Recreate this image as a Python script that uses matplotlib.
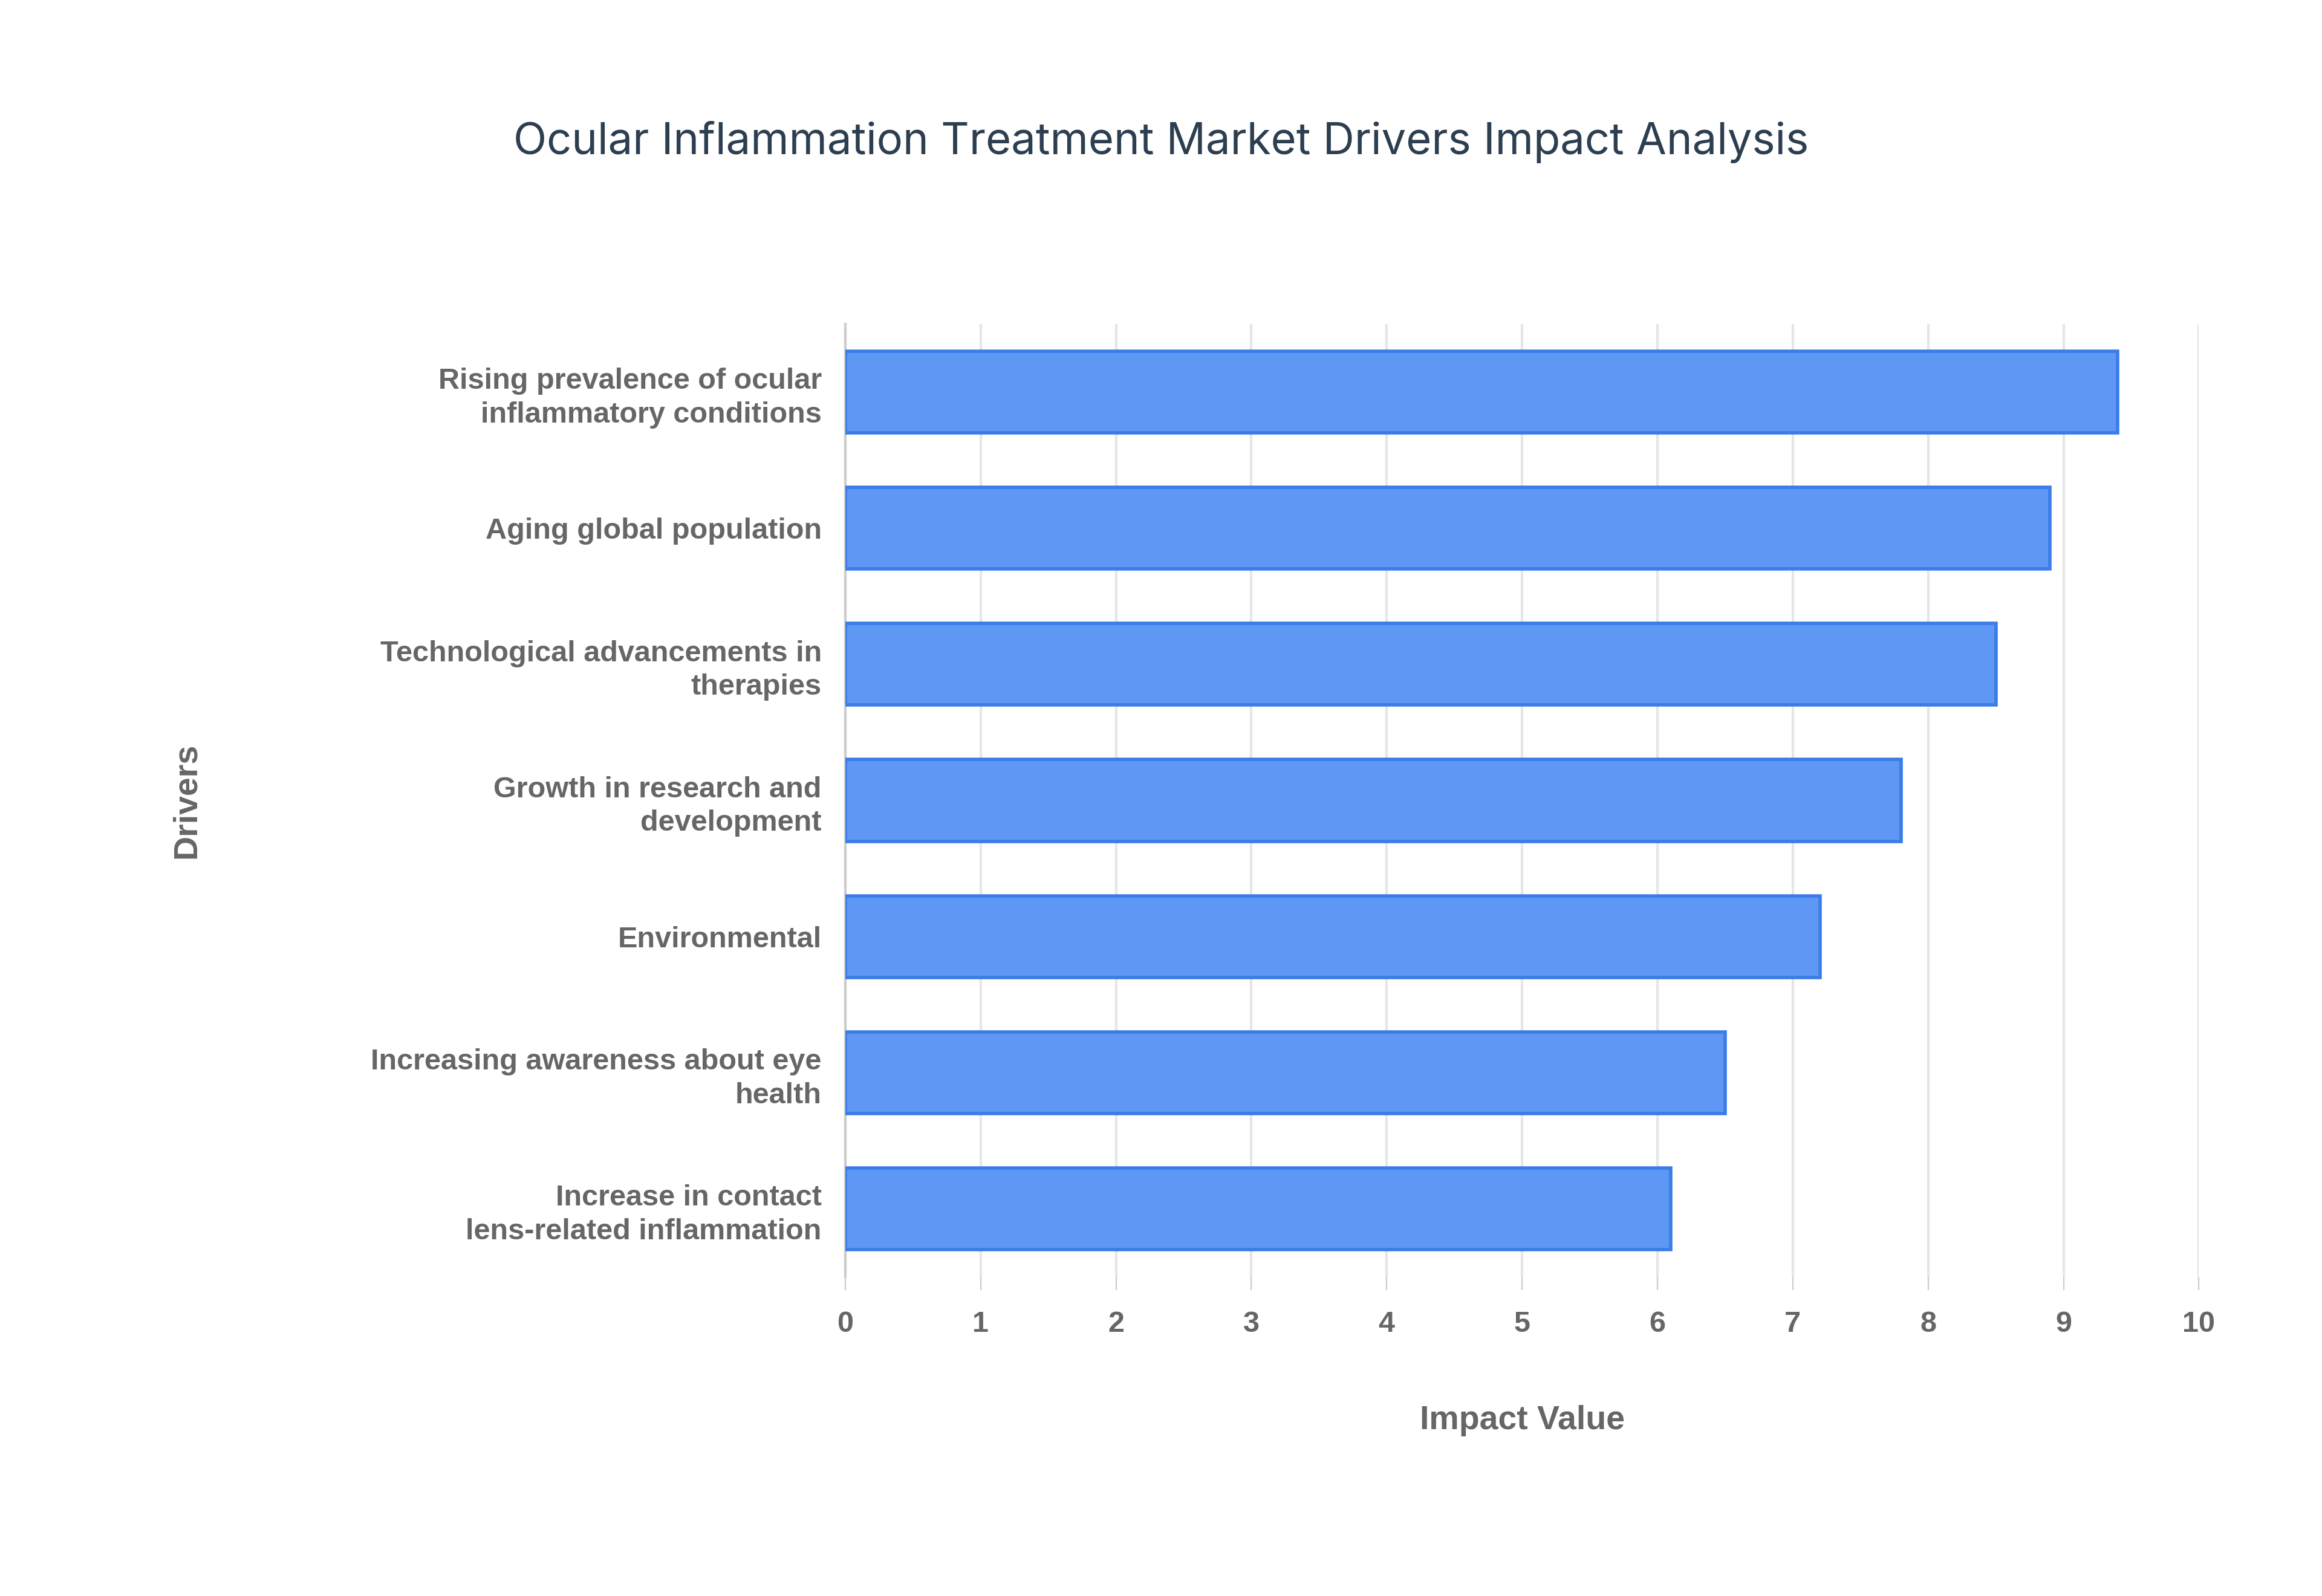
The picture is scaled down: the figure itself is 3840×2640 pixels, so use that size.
import matplotlib
matplotlib.use("Agg")
import matplotlib.pyplot as plt

drivers = ["Rising prevalence of ocular\ninflammatory conditions",
           "Aging global population",
           "Technological advancements in\ntherapies",
           "Growth in research and\ndevelopment",
           "Environmental",
           "Increasing awareness about eye\nhealth",
           "Increase in contact\nlens-related inflammation"]
impact = [9.4, 8.9, 8.5, 7.8, 7.2, 6.5, 6.1]
xticks = list(range(0, 11))

fig = plt.figure(figsize=(19.2, 13.2), dpi=200)
ax = fig.add_axes([0.364, 0.2, 0.583, 0.597])
ypos = list(range(len(drivers)))[::-1]
ax.barh(ypos, impact, height=0.6, color="#5f97f4", edgecolor="#3a7ce8", linewidth=2, zorder=3)
ax.set_xlim(0, 10)
ax.set_ylim(-0.5, len(drivers) - 0.5)
ax.set_yticks(ypos)
ax.set_yticklabels(drivers, fontsize=17.5, fontweight="bold", color="#666666",
                   family=["Liberation Sans"], linespacing=1.3)
ax.set_xticks(xticks)
ax.set_xticklabels([str(t) for t in xticks], fontsize=17.5, fontweight="bold",
                   color="#666666", family=["Liberation Sans"])
ax.grid(axis="x", color="#e6e6e6", linewidth=1.5, zorder=0)
for s in ["top", "right", "bottom"]:
    ax.spines[s].set_visible(False)
ax.spines["left"].set_color("#cccccc")
ax.spines["left"].set_linewidth(1.5)
ax.tick_params(axis="y", length=0, pad=14)
ax.tick_params(axis="x", length=8, color="#cccccc", pad=12)
ax.set_xlabel("Impact Value", fontsize=20, fontweight="bold", color="#666666",
              family=["Liberation Sans"], labelpad=40)
ax.set_ylabel("Drivers", fontsize=20, fontweight="bold", color="#666666",
              family=["Liberation Sans"], labelpad=40)
ax.yaxis.set_label_coords(-0.475, 0.5)
fig.text(0.5, 0.911, "Ocular Inflammation Treatment Market Drivers Impact Analysis",
         ha="center", va="center", fontsize=26, color="#2c3e50", family=["Inter", "DejaVu Sans"])
fig.savefig("out.png", dpi=200, facecolor="white")
